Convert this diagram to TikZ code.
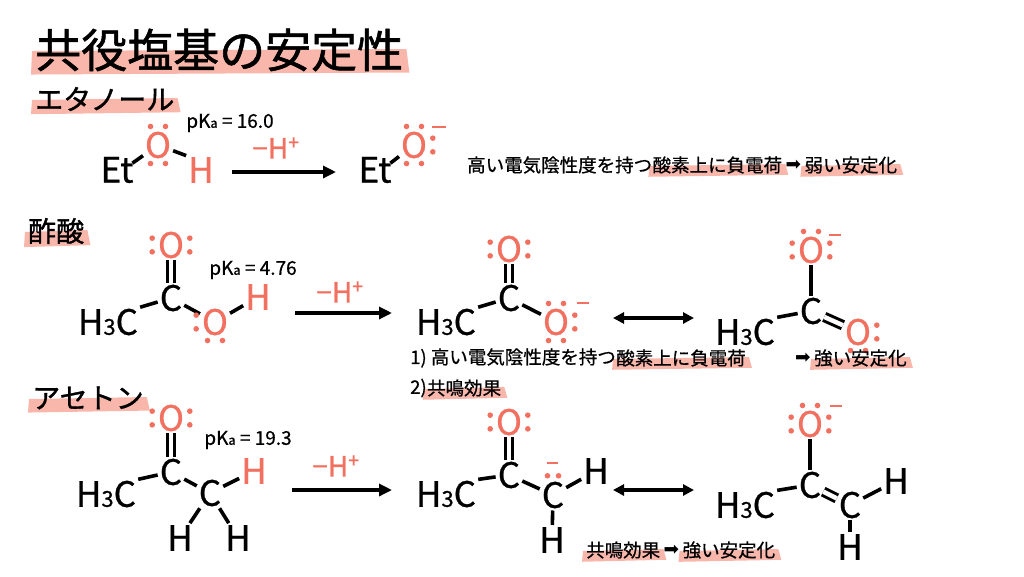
\documentclass[tikz,border=0pt]{standalone}
\usepackage{fontspec}
\setmainfont{Noto Sans CJK JP}[FakeBold=0.7]
\newfontfamily\titlef{Noto Sans CJK JP}[FakeBold=1.2]
\newfontfamily\dv{DejaVu Sans}
\usetikzlibrary{arrows.meta,calc,backgrounds}
\definecolor{ored}{HTML}{F2705F}
\definecolor{hl}{HTML}{F9B7AC}
\newcommand\atomsz{\fontsize{35}{35}\selectfont}
\newcommand\sub[1]{{\fontsize{22}{22}\selectfont #1}}
\newcommand\lpair[3]{\fill[ored] (#1) ++(#2+#3:20) circle(2.8) (#1) ++(#2-#3:20) circle(2.8);}
\newcommand\rarr{{\dv ➡}}
\newcommand\hlt[1]{\begin{scope}[on background layer]\fill[hl] ($(#1.south west)+(-4,3)$) -- ($(#1.south east)+(6,1)$) -- ($(#1.east)+(3,-1)$) -- ($(#1.west)+(-3,1)$) -- cycle;\end{scope}}
\begin{document}
\begin{tikzpicture}[x=1pt,y=-1pt,
  atom/.style={font=\atomsz,inner sep=1pt,text=black},
  oatom/.style={atom,text=ored},
  bond/.style={line width=3.6pt,shorten <=1pt,shorten >=1pt},
  dbl/.style={bond,double,double distance=4.5pt,line width=3pt},
  txt/.style={font=\fontsize{18.5}{18.5}\selectfont,anchor=west,inner sep=0pt},
  seg/.style={txt,anchor=west},
  head/.style={font=\fontsize{28}{28}\selectfont\titlef,anchor=west,inner sep=0pt},
  pka/.style={font=\fontsize{19}{19}\selectfont,inner sep=0pt},
  arr/.style={line width=3.2pt,-{Triangle[length=13pt,width=12pt]}},
  darr/.style={line width=3.2pt,{Triangle[length=11pt,width=11pt]}-{Triangle[length=11pt,width=11pt]}},
  mh/.style={font=\fontsize{28}{28}\selectfont,text=ored,inner sep=0pt},
  minus/.style={ored,line width=2.4pt}]
\useasboundingbox (0,0) rectangle (1024,576);
% title & headers
\node[font=\fontsize{46}{46}\selectfont\titlef,anchor=west,inner sep=0pt] (title) at (35,50) {共役塩基の安定性};
\hlt{title}
\node[head] (h1) at (35,99) {エタノール}; \hlt{h1}
\node[head] (h2) at (28,231) {酢酸}; \hlt{h2}
\node[head] (h3) at (32,398) {アセトン}; \hlt{h3}

% ethanol
\node[atom] (et1) at (117,170) {Et};
\node[oatom] (o1) at (158,145) {O};
\node[oatom] (h1a) at (201,170) {H};
\draw[bond] ($(et1.north east)+(-3,8)$) coordinate (b1s) -- (o1);
\draw[bond] (o1) -- (h1a.north west);
\lpair{o1}{-90}{22}\lpair{o1}{90}{22}
\node[pka] (pk1) at (230,123) {pK\sub{\fontsize{13}{13}\selectfont a} = 16.0};
\coordinate (a1s) at (232,172); \coordinate (a1e) at (336,172);
\draw[arr] (a1s) -- (a1e);
\node[mh] (mh1) at (276,148) {−H\textsuperscript{+}};
\node[atom] (et2) at (375,170) {Et};
\node[oatom] (o2) at (414,145) {O};
\draw[bond] ($(et2.north east)+(-3,8)$) coordinate (b2s) -- (o2);
\lpair{o2}{-90}{22}\lpair{o2}{90}{22}\lpair{o2}{0}{20}
\draw[minus] (432,127) -- (446,127);
\node[seg] (t1a) at (467,165) {高い電気陰性度を持つ};
\node[seg] (t1b) at (t1a.east) {酸素上に負電荷}; \hlt{t1b}
\node[seg] (t1c) at (t1b.east) {\,\rarr\,};
\node[seg] (t1d) at (t1c.east) {弱い安定化}; \hlt{t1d}

% acetic acid
\node[oatom] (o3) at (171,245) {O};
\node[atom] (c3) at (171,298) {C};
\node[atom] (me3) at (108,322) {H\sub{3}C};
\node[oatom] (o3b) at (215,322) {O};
\node[oatom] (h3) at (258,297) {H};
\draw[dbl] (c3) -- (o3);
\draw[bond] (me3.north east) -- (c3);
\draw[bond] (c3) -- (o3b);
\draw[bond] (o3b) -- (h3);
\lpair{o3}{180}{20}\lpair{o3}{0}{20}
\lpair{o3b}{90}{22}\lpair{o3b}{180}{20}
\node[pka] (pk2) at (253,270) {pK\sub{\fontsize{13}{13}\selectfont a} = 4.76};
\coordinate (a2s) at (295,313); \coordinate (a2e) at (392,313);
\draw[arr] (a2s) -- (a2e);
\node[mh] (mh2) at (340,292) {−H\textsuperscript{+}};
\node[oatom] (o4) at (509,249) {O};
\node[atom] (c4) at (509,298) {C};
\node[atom] (me4) at (446,322) {H\sub{3}C};
\node[oatom] (o4b) at (556,322) {O};
\draw[dbl] (c4) -- (o4);
\draw[bond] (me4.north east) -- (c4);
\draw[bond] (c4) -- (o4b);
\lpair{o4}{180}{20}\lpair{o4}{0}{20}
\lpair{o4b}{90}{22}\lpair{o4b}{0}{20}\lpair{o4b}{-90}{22}
\draw[minus] (577,303) -- (589,303);
\coordinate (d1s) at (613,318); \coordinate (d1e) at (694,318);
\draw[darr] (d1s) -- (d1e);
\node[oatom] (o5) at (811,250) {O};
\node[atom] (c5) at (811,311) {C};
\node[atom] (me5) at (745,332) {H\sub{3}C};
\node[oatom] (o5b) at (858,332) {O};
\draw[bond] (c5) -- (o5);
\draw[bond] (me5.north east) -- (c5);
\draw[dbl] (c5) -- (o5b);
\lpair{o5}{180}{20}\lpair{o5}{0}{20}\lpair{o5}{-90}{22}
\lpair{o5b}{0}{20}\lpair{o5b}{90}{22}
\draw[minus] (829,235) -- (841,235);
\node[seg] (t2a) at (410,358) {1) 高い電気陰性度を持つ};
\node[seg] (t2b) at (t2a.east) {酸素上に負電荷}; \hlt{t2b}
\node[seg] (t2c) at (795,358) {\rarr\,};
\node[seg] (t2d) at (t2c.east) {強い安定化}; \hlt{t2d}
\node[seg] (t3a) at (410,388) {2) };
\node[seg] (t3b) at (t3a.east) {共鳴効果}; \hlt{t3b}

% acetone
\node[oatom] (o6) at (171,418) {O};
\node[atom] (c6) at (171,472) {C};
\node[atom] (me6) at (106,494) {H\sub{3}C};
\node[atom] (c6b) at (210,493) {C};
\node[oatom] (h6a) at (254,471) {H};
\node[atom] (h6b) at (180,538) {H};
\node[atom] (h6c) at (238,538) {H};
\draw[dbl] (c6) -- (o6);
\draw[bond] (me6.north east) -- (c6);
\draw[bond] (c6) -- (c6b);
\draw[bond] (c6b) -- (h6a);
\draw[bond] (c6b) -- (h6b);
\draw[bond] (c6b) -- (h6c);
\lpair{o6}{180}{20}\lpair{o6}{0}{20}
\node[pka] (pk3) at (248,440) {pK\sub{\fontsize{13}{13}\selectfont a} = 19.3};
\coordinate (a3s) at (292,490); \coordinate (a3e) at (392,490);
\draw[arr] (a3s) -- (a3e);
\node[mh] (mh3) at (336,466) {−H\textsuperscript{+}};
\node[oatom] (o7) at (509,422) {O};
\node[atom] (c7) at (509,475) {C};
\node[atom] (me7) at (446,494) {H\sub{3}C};
\node[atom] (c7b) at (553,495) {C};
\node[atom] (h7a) at (596,471) {H};
\node[atom] (h7b) at (552,540) {H};
\draw[dbl] (c7) -- (o7);
\draw[bond] (me7.north east) -- (c7);
\draw[bond] (c7) -- (c7b);
\draw[bond] (c7b) -- (h7a);
\draw[bond] (c7b) -- (h7b);
\lpair{o7}{180}{20}\lpair{o7}{0}{20}
\lpair{c7b}{-90}{16}
\draw[minus] (547,463) -- (558,463);
\coordinate (d2s) at (613,490); \coordinate (d2e) at (694,490);
\draw[darr] (d2s) -- (d2e);
\node[oatom] (o8) at (810,424) {O};
\node[atom] (c8) at (810,485) {C};
\node[atom] (me8) at (745,505) {H\sub{3}C};
\node[atom] (c8b) at (850,505) {C};
\node[atom] (h8a) at (896,481) {H};
\node[atom] (h8b) at (850,547) {H};
\draw[bond] (c8) -- (o8);
\draw[bond] (me8.north east) -- (c8);
\draw[dbl] (c8) -- (c8b);
\draw[bond] (c8b) -- (h8a);
\draw[bond] (c8b) -- (h8b);
\lpair{o8}{180}{20}\lpair{o8}{0}{20}\lpair{o8}{-90}{22}
\draw[minus] (830,406) -- (842,406);
\node[seg] (t4a) at (586,550) {共鳴効果}; \hlt{t4a}
\node[seg] (t4b) at (t4a.east) {\,\rarr\,};
\node[seg] (t4c) at (t4b.east) {強い安定化}; \hlt{t4c}
\end{tikzpicture}
\end{document}
